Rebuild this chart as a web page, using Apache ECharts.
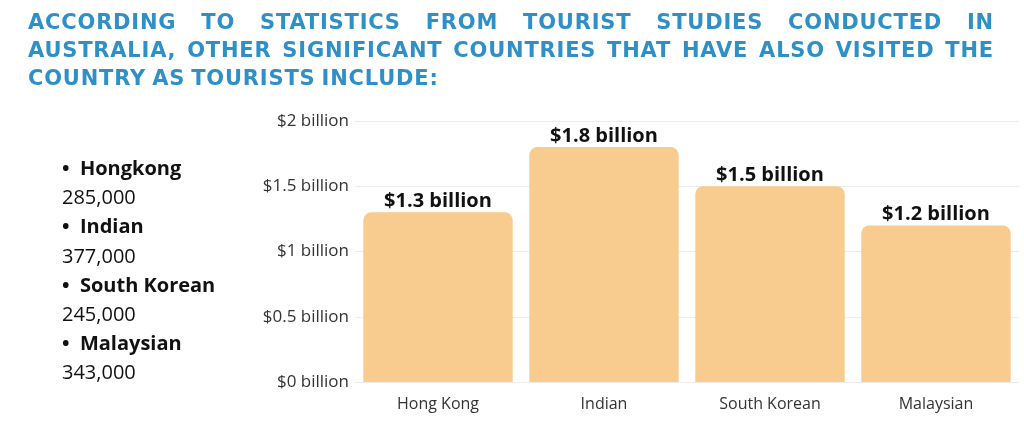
<!DOCTYPE html>
<html>
<head>
<meta charset="utf-8">
<script src="https://cdn.jsdelivr.net/npm/echarts@6/dist/echarts.min.js"></script>
<style>
  body { margin: 0; background: #fff; }
  #title {
    position: absolute; left: 28px; top: 8px; width: 966px;
    font-family: "DejaVu Sans", sans-serif; font-weight: bold; font-size: 21px;
    line-height: 28px; color: #2f8fc7; text-transform: uppercase;
    text-align: justify; letter-spacing: 0.8px; word-spacing: -2px;
  }
  #list {
    position: absolute; left: 62px; top: 153px;
    font-family: "Open Sans", sans-serif; font-size: 20px; line-height: 29.2px; color: #111;
  }
  #list b { font-weight: bold; }
  #chart { position: absolute; left: 0; top: 0; width: 1024px; height: 427px; }
</style>
</head>
<body>
<div id="chart"></div>
<div id="title">According to statistics from tourist studies conducted in Australia, other significant countries that have also visited the country as tourists include:</div>
<div id="list"></div>
<script>
// tourist spend by country
var categories = ["Hong Kong", "Indian", "South Korean", "Malaysian"];
var values = [1.3, 1.8, 1.5, 1.2];
var listNames = ["Hongkong", "Indian", "South Korean", "Malaysian"];
var listCounts = ["285,000", "377,000", "245,000", "343,000"];

(function(){
    var html = "";
    for (var i = 0; i < listNames.length; i++) {
        html += "<div><b>&bull;&nbsp; " + listNames[i] + "</b></div><div>" + listCounts[i] + "</div>";
    }
    document.getElementById("list").innerHTML = html;

    var myChart = echarts.init(document.getElementById("chart"));
    var option = {
        backgroundColor: 'rgba(255,255,255,0)',
        grid: { left: 355, right: 5, top: 121, bottom: 45 },
        xAxis: {
            type: 'category',
            data: categories,
            axisLine: { show: false },
            axisTick: { show: false },
            axisLabel: { fontSize: 16, color: '#333', fontFamily: 'Open Sans', margin: 14 }
        },
        yAxis: {
            type: 'value',
            min: 0, max: 2, interval: 0.5,
            splitLine: { lineStyle: { color: '#ececec' } },
            axisLine: { show: false },
            axisLabel: {
                fontSize: 17, color: '#333', fontFamily: 'Open Sans', margin: 6,
                formatter: function(v){ return '$' + v + ' billion'; }
            }
        },
        series: [{
            type: 'bar',
            data: values,
            barCategoryGap: '10%',
            itemStyle: { color: '#f8cb8e', borderRadius: [8, 8, 0, 0] },
            label: {
                show: true, position: 'top', distance: 1,
                fontSize: 20, fontWeight: 'bold', color: '#111', fontFamily: 'Open Sans',
                formatter: function(p){ return '$' + p.value + ' billion'; }
            }
        }]
    };
    myChart.setOption(option);
    window.addEventListener('resize', function() {
        myChart.resize();
    })
})();
</script>
</body>
</html>
